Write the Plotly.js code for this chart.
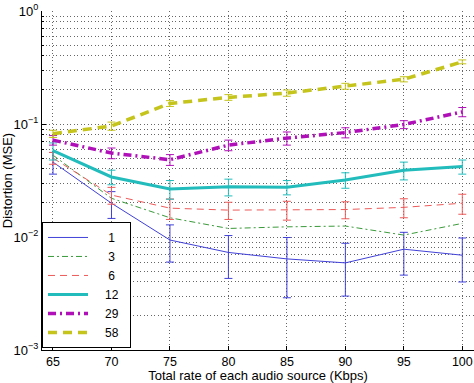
<!DOCTYPE html>
<html>
<head>
<meta charset="utf-8">
<script src="https://cdn.plot.ly/plotly-3.0.1.min.js"></script>
<style>html,body{margin:0;padding:0;background:#fff;}#chart{width:474px;height:383px;}</style>
</head>
<body>
<div id="chart"></div>
<script>
var rates = [65, 70, 75, 80, 85, 90, 95, 100];
var names = ["1", "3", "6", "12", "29", "58"];
var s1 = [0.046, 0.0199, 0.0094, 0.0073, 0.0064, 0.0059, 0.0078, 0.0069];
var e1 = [0.010, 0.0053, 0.0034, 0.0030, 0.0035, 0.0029, 0.0032, 0.0029];
var s3 = [0.053, 0.022, 0.0148, 0.0119, 0.0123, 0.0125, 0.0104, 0.0132];
var s6 = [0.050, 0.0235, 0.0180, 0.0173, 0.0174, 0.0175, 0.0183, 0.0199];
var e6 = [0.006, 0.004, 0.0037, 0.0030, 0.0033, 0.0030, 0.0035, 0.0040];
var s12 = [0.058, 0.034, 0.0266, 0.0278, 0.0276, 0.0320, 0.0390, 0.0420];
var e12 = [0.010, 0.005, 0.005, 0.0047, 0.0040, 0.0050, 0.0070, 0.0060];
var s29 = [0.072, 0.0553, 0.0483, 0.065, 0.075, 0.084, 0.099, 0.128];
var e29 = [0.007, 0.006, 0.0053, 0.007, 0.010, 0.0086, 0.008, 0.012];
var s58 = [0.082, 0.096, 0.152, 0.172, 0.188, 0.216, 0.249, 0.355];
var e58 = [0.006, 0.008, 0.009, 0.010, 0.012, 0.013, 0.013, 0.014];
var yTicks = [0.001, 0.01, 0.1, 1];
var yTickText = ["10<sup>\u22123</sup>", "10<sup>\u22122</sup>", "10<sup>\u22121</sup>", "10<sup>0</sup>"];
var xTicks = [65, 70, 75, 80, 85, 90, 95, 100];

function legendLabel(n) {
  // pad legend text so numbers sit centred in a wider box
  var lead = '\u2002\u2002' + (n.length === 1 ? '\u2008' : '');
  var tail = n.length === 1 ? '\u2008\u2002' : '\u2002';
  return lead + n + tail;
}
function tr(name, y, err, color, width, dash) {
  var t = {x: rates, y: y, name: legendLabel(name), type: 'scatter', mode: 'lines',
    line: {color: color, width: width, dash: dash}};
  if (err) t.error_y = {type: 'data', array: err, visible: true, color: color, thickness: 1, width: 4};
  return t;
}
var data = [
  tr(names[0], s1, e1, '#4040d8', 1, 'solid'),
  tr(names[1], s3, null, '#3a9a3a', 1, '6px,3px,2px,3px'),
  tr(names[2], s6, e6, '#ee5a5a', 1, '7px,5px'),
  tr(names[3], s12, e12, '#22bcbc', 3, 'solid'),
  tr(names[4], s29, e29, '#b010b8', 3.5, '8px,4px,2px,4px'),
  tr(names[5], s58, e58, '#c4c41c', 3.5, '9px,6px')
];
var grid = {showgrid: true, gridcolor: '#666', griddash: '1px,2.5px', gridwidth: 1};
var layout = {
  width: 474, height: 383,
  margin: {l: 42, r: 0, t: 11, b: 33},
  paper_bgcolor: '#fff', plot_bgcolor: '#fff',
  font: {family: 'Liberation Sans, Arial, sans-serif', size: 13, color: '#000'},
  showlegend: true,
  legend: {x: 0, y: 0.006, xanchor: 'left', yanchor: 'bottom', bgcolor: '#fff',
    bordercolor: '#000', borderwidth: 1, font: {size: 12}, tracegroupgap: 0,
    itemwidth: 40},
  xaxis: Object.assign({range: [64.06, 101], tickvals: xTicks, ticktext: xTicks.map(String),
    tickfont: {size: 12.5},
    showline: true, linecolor: '#000', linewidth: 1, ticks: 'inside', ticklen: 4,
    tickcolor: '#000', zeroline: false, mirror: false, automargin: false,
    title: {text: 'Total rate of each audio source (Kbps)', standoff: 2, font: {size: 13}}}, grid),
  yaxis: Object.assign({type: 'log', range: [-3, 0], tickvals: yTicks, ticktext: yTickText,
    showline: true, linecolor: '#000', linewidth: 1, ticks: 'inside', ticklen: 4,
    tickcolor: '#000', zeroline: false, automargin: false,
    minor: Object.assign({dtick: 'D1', ticks: 'inside', ticklen: 2, tickcolor: '#000'}, grid),
    title: {text: 'Distortion (MSE)', standoff: 2, font: {size: 13}}}, grid)
};
Plotly.newPlot('chart', data, layout, {displayModeBar: false, staticPlot: true});
</script>
</body>
</html>
